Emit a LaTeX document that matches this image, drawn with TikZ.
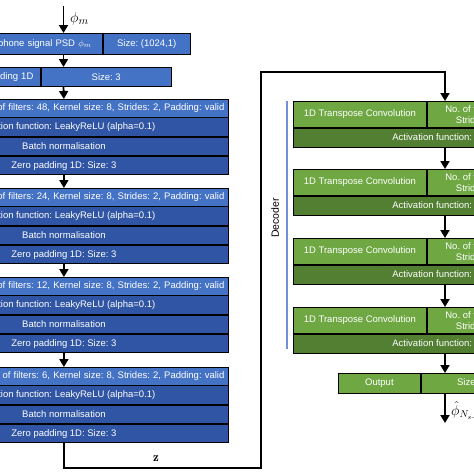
\documentclass[tikz,border=0pt]{standalone}
\usepackage{amsmath}
\usepackage{fontspec}
\setsansfont{Liberation Sans}
\usetikzlibrary{arrows.meta}

\definecolor{encLight}{HTML}{4472C4}
\definecolor{encDark}{HTML}{2F55A4}
\definecolor{decLight}{HTML}{6FA843}
\definecolor{decDark}{HTML}{527F31}
\definecolor{decLine}{HTML}{7090D8}

\tikzset{
    cell/.style={draw=black, line width=0.8pt, inner sep=0pt, anchor=north west,
        font=\sffamily\fontsize{9.5}{11}\selectfont\frenchspacing, text=white},
    encrow/.style={cell, fill=encDark, minimum width=329pt, minimum height=18.5pt},
    enctop/.style={cell, fill=encLight, minimum width=329pt, minimum height=17.5pt,
        text width=321pt, align=right},
    inbox/.style={cell, fill=encLight},
    decrow/.style={cell, fill=decLight, minimum height=26pt},
    declow/.style={cell, fill=decDark, minimum width=381pt, minimum height=19pt},
    flow/.style={line width=1.8pt, -{Triangle[length=8pt,width=9pt]}},
}

\begin{document}
\begin{tikzpicture}[x=1pt,y=-1pt]
    \useasboundingbox (0,0) rectangle (474,474);
    \clip (0,0) rectangle (474,474);

    % encoder
    \coordinate (src) at (63.5,6);
    \node[inbox, minimum width=203pt, minimum height=21pt, text width=181pt, align=right] (inL) at (-101,33) {Microphone signal PSD $\phi_m$};
    \node[inbox, minimum width=87pt, minimum height=21pt] (inR) at (inL.north east) {Size: (1024,1)};
    \node[inbox, minimum width=141pt, minimum height=19pt, text width=127pt, align=right] (padL) at (-101,67) {Zero padding 1D};
    \node[inbox, minimum width=130pt, minimum height=19pt] (padR) at (padL.north east) {Size: 3};
    \node[anchor=west, inner sep=0pt, font=\fontsize{15}{17}\selectfont] (phiIn) at (70,19) {$\phi_m$};

    \foreach \i/\top/\nf in {1/99/48,2/188/24,3/277/12,4/367/6} {
        \node[enctop] (enc\i-1) at (-101,\top) {No. of filters: \nf, Kernel size: 8, Strides: 2, Padding: valid};
        \node[encrow] (enc\i-2) at (enc\i-1.south west) {Activation function: LeakyReLU (alpha=0.1)};
        \node[encrow] (enc\i-3) at (enc\i-2.south west) {Batch normalisation};
        \node[encrow] (enc\i-4) at (enc\i-3.south west) {Zero padding 1D: Size: 3};
    }

    \draw[flow] (src) -- (inL.north -| src);
    \draw[flow] (inL.south -| src) -- (padL.north -| src);
    \draw[flow] (padL.south -| src) -- (enc1-1.north);
    \foreach \i/\j in {1/2,2/3,3/4}
        \draw[flow] (enc\i-4.south) -- (enc\j-1.north);

    % decoder
    \coordinate (col) at (445,0);
    \foreach \i/\top in {1/101,2/169,3/238,4/307} {
        \node[decrow, minimum width=133pt] (dec\i-l) at (293,\top) {1D Transpose Convolution};
        \node[decrow, minimum width=87pt, align=center] (dec\i-r) at (dec\i-l.north east) {No. of filters\\Strides};
        \node[declow] (dec\i-b) at (dec\i-l.south west) {Activation function: LeakyReLU (alpha=0.1)};
    }
    \foreach \i/\j in {1/2,2/3,3/4}
        \draw[flow] (col |- dec\i-b.south) -- (col |- dec\j-l.north);

    \node[cell, fill=decLight, minimum width=82pt, minimum height=20pt] (outL) at (338,373) {Output};
    \node[cell, fill=decLight, minimum width=131pt, minimum height=20pt] (outR) at (outL.north east) {Size: (1024,1)};
    \draw[flow] (col |- dec4-b.south) -- (col |- outL.north);
    \coordinate (dst) at (445,423);
    \draw[flow] (col |- outL.south) -- (dst);
    \node[anchor=west, inner sep=0pt, font=\fontsize{14}{16}\selectfont] (phiOut) at (451,411) {$\hat{\phi}_{N_{s+1}}$};

    \draw[decLine, line width=1.5pt] (287,101) -- (287,349);
    \node[rotate=90, inner sep=0pt, font=\sffamily\fontsize{10.5}{12}\selectfont] (decLabel) at (275,218) {Decoder};

    % latent path
    \coordinate (zlow) at (261,468);
    \coordinate (zup) at (445,72);
    \draw[flow] (enc4-4.south) |- (zlow) |- (zup) -- (col |- dec1-l.north);
    \node[font=\fontsize{13}{15}\selectfont] (zLabel) at (156,459) {$\mathbf{z}$};
\end{tikzpicture}
\end{document}
